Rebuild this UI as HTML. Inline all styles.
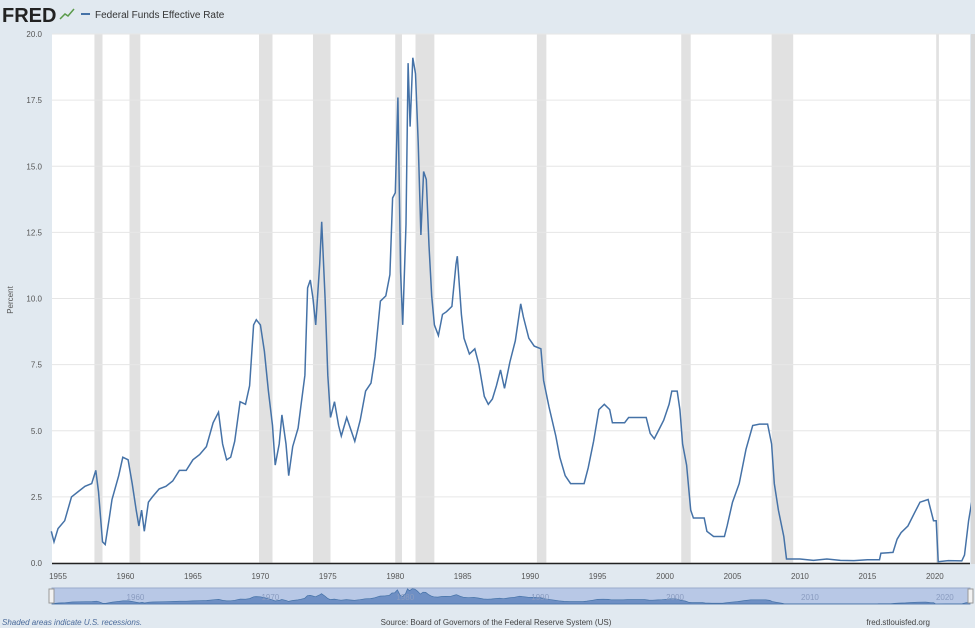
<!DOCTYPE html>
<html><head><meta charset="utf-8"><style>
body{margin:0;background:#e1e9f0;font-family:"Liberation Sans",sans-serif;}
svg{display:block}
</style></head><body>
<svg id="c" width="975" height="628"></svg>
<script>
const years=[1954.5,1954.7,1955.0,1955.5,1956,1956.5,1957,1957.5,1957.8,1958.0,1958.3,1958.5,1958.8,1959,1959.5,1959.8,1960.2,1960.5,1960.8,1961.0,1961.2,1961.4,1961.7,1962,1962.5,1963,1963.5,1964,1964.5,1965,1965.5,1966,1966.5,1966.9,1967.2,1967.5,1967.8,1968.1,1968.5,1968.9,1969.2,1969.5,1969.7,1970.0,1970.3,1970.6,1970.9,1971.1,1971.4,1971.6,1971.9,1972.1,1972.4,1972.8,1973.0,1973.3,1973.5,1973.7,1973.9,1974.1,1974.4,1974.55,1974.8,1975.0,1975.2,1975.5,1975.8,1976.0,1976.4,1976.8,1977.0,1977.4,1977.8,1978.2,1978.5,1978.9,1979.3,1979.6,1979.8,1980.0,1980.2,1980.4,1980.55,1980.8,1980.95,1981.1,1981.3,1981.5,1981.7,1981.9,1982.1,1982.3,1982.5,1982.7,1982.9,1983.2,1983.5,1983.8,1984.2,1984.5,1984.6,1984.9,1985.1,1985.5,1985.9,1986.2,1986.6,1986.9,1987.2,1987.5,1987.8,1988.1,1988.5,1988.9,1989.3,1989.5,1989.9,1990.3,1990.8,1991.0,1991.4,1991.9,1992.2,1992.6,1993.0,1993.5,1994.0,1994.3,1994.7,1995.1,1995.5,1995.9,1996.1,1996.5,1997.0,1997.3,1998.0,1998.6,1998.9,1999.2,1999.6,1999.9,2000.3,2000.5,2000.9,2001.1,2001.3,2001.6,2001.9,2002.1,2002.9,2003.1,2003.6,2004.4,2004.6,2005.0,2005.5,2006.0,2006.5,2007.0,2007.6,2007.9,2008.1,2008.4,2008.8,2009.0,2010,2011,2012,2013,2014,2015.0,2015.9,2016.0,2016.9,2017.2,2017.5,2018.0,2018.5,2018.9,2019.5,2019.7,2019.9,2020.1,2020.25,2021.0,2022.0,2022.2,2022.5,2022.8];
const rates=[1.2,0.8,1.3,1.6,2.5,2.7,2.9,3.0,3.5,2.7,0.8,0.7,1.7,2.4,3.3,4.0,3.9,3.0,2.0,1.4,2.0,1.2,2.3,2.5,2.8,2.9,3.1,3.5,3.5,3.9,4.1,4.4,5.3,5.7,4.5,3.9,4.0,4.6,6.1,6.0,6.7,9.0,9.2,9.0,8.0,6.5,5.2,3.7,4.5,5.6,4.5,3.3,4.4,5.1,5.9,7.1,10.4,10.7,10.0,9.0,11.3,12.9,10.0,7.1,5.5,6.1,5.2,4.8,5.5,4.9,4.6,5.4,6.5,6.8,7.8,9.9,10.1,10.9,13.8,14.0,17.6,11.0,9.0,12.8,18.9,16.5,19.1,18.5,15.9,12.4,14.8,14.5,12.0,10.1,9.0,8.6,9.4,9.5,9.7,11.3,11.6,9.4,8.5,7.9,8.1,7.5,6.3,6.0,6.2,6.7,7.3,6.6,7.6,8.4,9.8,9.3,8.5,8.2,8.1,6.9,5.9,4.8,4.0,3.3,3.0,3.0,3.0,3.6,4.6,5.8,6.0,5.8,5.3,5.3,5.3,5.5,5.5,5.5,4.9,4.7,5.1,5.4,6.0,6.5,6.5,5.8,4.5,3.7,2.0,1.7,1.7,1.2,1.0,1.0,1.4,2.3,3.0,4.3,5.2,5.25,5.25,4.5,3.0,2.0,1.0,0.15,0.15,0.1,0.15,0.1,0.09,0.12,0.12,0.37,0.4,0.9,1.15,1.4,1.9,2.3,2.4,2.0,1.6,1.6,0.05,0.09,0.08,0.3,1.6,2.5];
const recStart=[1957.7,1960.3,1969.9,1973.9,1980.0,1981.5,1990.5,2001.2,2007.9,2020.1];
const recEnd=[1958.3,1961.1,1970.9,1975.2,1980.5,1982.9,1991.2,2001.9,2009.5,2020.3];
const yTicks=[0,2.5,5,7.5,10,12.5,15,17.5,20];
const xTicks=[1955,1960,1965,1970,1975,1980,1985,1990,1995,2000,2005,2010,2015,2020];
const NS="http://www.w3.org/2000/svg",svg=document.getElementById('c');
const X0=52,X1=970,Y0=563,Y1=34;
const x=t=>58+(t-1955)*13.49;
const y=v=>Y0-(v/20)*(Y0-Y1);
function mk(tag,a,p){const e=document.createElementNS(NS,tag);for(const k in a)e.setAttribute(k,a[k]);(p||svg).appendChild(e);return e;}
let t=mk('text',{x:2,y:22,'font-size':20,'font-weight':'bold',fill:'#222'});t.textContent='FRED';

let ic=mk('path',{d:'M60 19 L65 14 L68 16 L74 9',stroke:'#5a9a4a','stroke-width':1.5,fill:'none'});

let lg=mk('line',{x1:81,y1:14,x2:90,y2:14,stroke:'#4572a7','stroke-width':2});

t=mk('text',{x:95,y:18,'font-size':10,fill:'#333'});t.textContent='Federal Funds Effective Rate';

let bg=mk('rect',{x:X0,y:Y1,width:X1-X0,height:Y0-Y1,fill:'#fff'});

recStart.forEach((s,i)=>{const r=mk('rect',{x:x(s),y:Y1,width:x(recEnd[i])-x(s),height:Y0-Y1,fill:'#e1e1e1'});
});
yTicks.forEach(v=>{const g=mk('line',{x1:X0,x2:X1,y1:y(v),y2:y(v),stroke:'#e6e6e6','stroke-width':1});

const l=mk('text',{x:42,y:y(v)+3,'font-size':8,fill:'#555','text-anchor':'end'});l.textContent=v.toFixed(1);
});
xTicks.forEach(v=>{const l=mk('text',{x:x(v),y:579,'font-size':8,fill:'#555','text-anchor':'middle'});l.textContent=v;
});
let ax=mk('line',{x1:X0,x2:X1,y1:Y0+0.5,y2:Y0+0.5,stroke:'#222','stroke-width':1.5});

t=mk('text',{x:13,y:300,'font-size':8,fill:'#555','text-anchor':'middle',transform:'rotate(-90 13 300)'});t.textContent='Percent';

const pts=years.map((yr,i)=>x(yr).toFixed(1)+','+y(rates[i]).toFixed(1)).join(' ');
let ln=mk('polyline',{points:pts,fill:'none',stroke:'#4572a7','stroke-width':1.5});

let sb=mk('rect',{x:971,y:34,width:4,height:530,fill:'#d8d8d8'});

const NY0=604,NY1=588,nx=v=>X0+(v-1954.5)/(2022.8-1954.5)*(X1-X0),ny=v=>NY0-v/20*(NY0-NY1);
let nb=mk('rect',{x:X0,y:NY1,width:X1-X0,height:NY0-NY1,fill:'#b8c8e6',stroke:'#9aaccc'});

let na=mk('polygon',{points:nx(1954.5)+','+NY0+' '+years.map((yr,i)=>nx(yr).toFixed(1)+','+ny(rates[i]).toFixed(1)).join(' ')+' '+nx(2022.8)+','+NY0,fill:'#6e8fc4',stroke:'#4572a7','stroke-width':0.7});

[1960,1970,1980,1990,2000,2010,2020].forEach(v=>{const l=mk('text',{x:x(v)+10,y:600,'font-size':8,fill:'#8a9cc0','text-anchor':'middle'});l.textContent=v;
});
[X0-3,X1-2].forEach(hx=>{const h=mk('rect',{x:hx,y:589,width:5,height:14,fill:'#f2f2f2',stroke:'#999'});
});
t=mk('text',{x:2,y:625,'font-size':8,'font-style':'italic',fill:'#4a6a9a'});t.textContent='Shaded areas indicate U.S. recessions.';

t=mk('text',{x:496,y:625,'font-size':8,fill:'#444','text-anchor':'middle'});t.textContent='Source: Board of Governors of the Federal Reserve System (US)';

t=mk('text',{x:930,y:625,'font-size':8,fill:'#444','text-anchor':'end'});t.textContent='fred.stlouisfed.org';

</script>
</body></html>
